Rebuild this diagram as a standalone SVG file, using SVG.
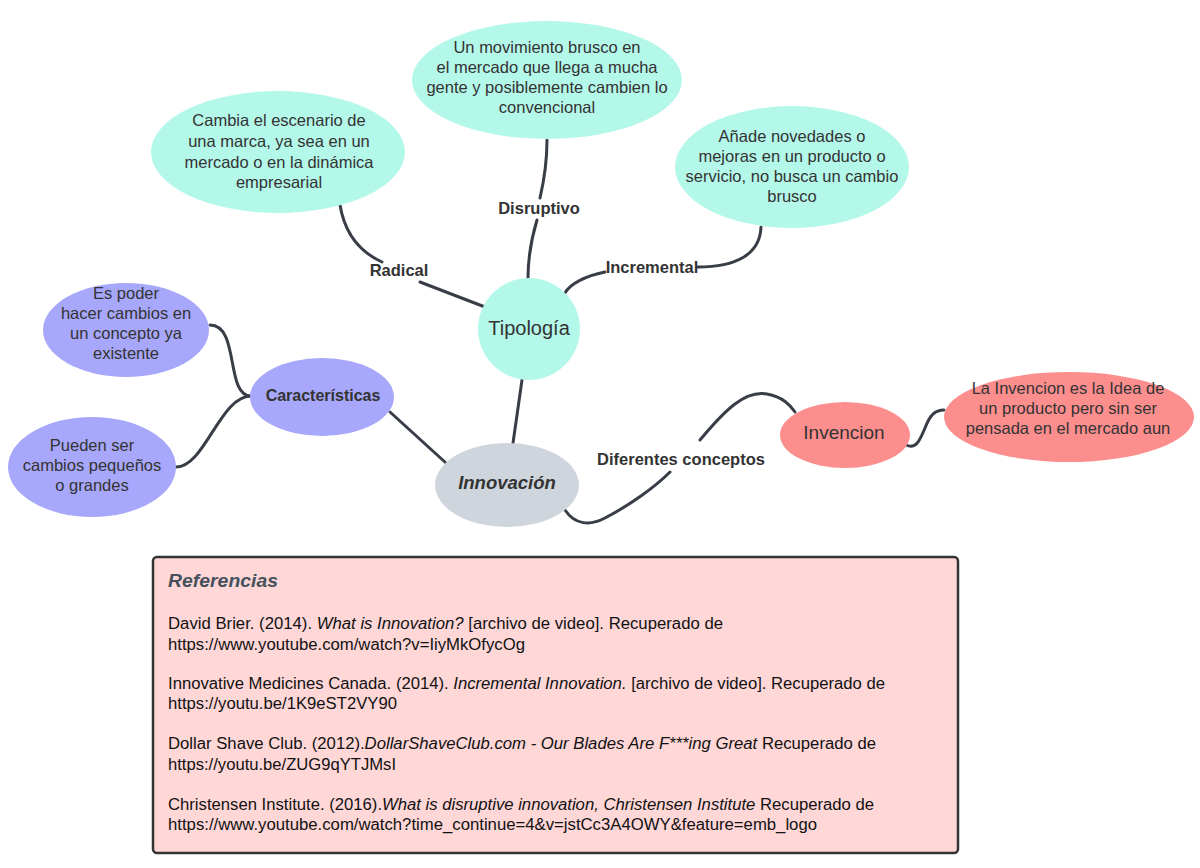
<svg xmlns="http://www.w3.org/2000/svg" width="1200" height="868" viewBox="0 0 1200 868">
<style>
.t{font-family:"Liberation Sans",Arial,sans-serif;font-size:16.5px;fill:#333;text-anchor:middle}
.b{font-weight:bold}
.c{fill:none;stroke:#383d47;stroke-width:3;stroke-linecap:round}
.teal{fill:#b4f8ea}
.purp{fill:#a7a7fb}
.red{fill:#fd8e8e}
.grey{fill:#cfd5dd}
.r{font-family:"Liberation Sans",Arial,sans-serif;font-size:16px;fill:#111}
.i{font-style:italic}
</style>
<rect width="1200" height="868" fill="#fff"/>
<g id="connectors">
<path class="c" d="M340,205 C345,235 360,252 382,262"/>
<path class="c" d="M420,282 L485,307"/>
<path class="c" d="M547,140 C547,165 543,185 540,198"/>
<path class="c" d="M537,220 C531,240 528,260 528,278"/>
<path class="c" d="M761,227 C760,255 735,267 698,267"/>
<path class="c" d="M605,272 C585,276 570,284 565,293"/>
<path class="c" d="M522,380 L513,443"/>
<path class="c" d="M390,412 L446,463"/>
<path class="c" d="M210,325 C240,325 225,396 251,396"/>
<path class="c" d="M176,467 C205,467 220,396 251,396"/>
<path class="c" d="M565,510 C575,525 590,526 605,518 C630,505 655,487 670,472"/>
<path class="c" d="M700,440 C725,410 745,390 767,394 C783,397 790,405 795,412"/>
<path class="c" d="M906,445 C916,450 920,440 925,428 C930,415 935,410 944,410"/>
</g>
<g id="labels">
<text class="t b" x="399" y="276">Radical</text>
<text class="t b" x="539" y="214">Disruptivo</text>
<text class="t b" x="652" y="273">Incremental</text>
<text class="t b" x="681" y="465">Diferentes conceptos</text>
</g>
<g id="radical-desc">
<ellipse class="teal" cx="278" cy="152" rx="127" ry="61"/>
<text class="t" x="279" y="126">Cambia el escenario de</text>
<text class="t" x="279" y="147">una marca, ya sea en un</text>
<text class="t" x="279" y="168">mercado o en la dinámica</text>
<text class="t" x="279" y="188">empresarial</text>
</g>
<g id="disruptivo-desc">
<ellipse class="teal" cx="547" cy="80" rx="135" ry="59"/>
<text class="t" x="547" y="53">Un movimiento brusco en</text>
<text class="t" x="547" y="73">el mercado que llega a mucha</text>
<text class="t" x="547" y="93">gente y posiblemente cambien lo</text>
<text class="t" x="547" y="113">convencional</text>
</g>
<g id="incremental-desc">
<ellipse class="teal" cx="792" cy="167" rx="117" ry="61"/>
<text class="t" x="792" y="142">Añade novedades o</text>
<text class="t" x="792" y="162">mejoras en un producto o</text>
<text class="t" x="792" y="182">servicio, no busca un cambio</text>
<text class="t" x="792" y="202">brusco</text>
</g>
<g id="tipologia">
<ellipse class="teal" cx="529" cy="329" rx="51" ry="51"/>
<text class="t" x="529" y="335" style="font-size:20px">Tipología</text>
</g>
<g id="caracteristicas">
<ellipse class="purp" cx="322" cy="397" rx="72" ry="39"/>
<text class="t b" x="323" y="401" style="font-size:16px">Características</text>
</g>
<g id="es-poder">
<ellipse class="purp" cx="126" cy="330" rx="83" ry="47"/>
<text class="t" x="126" y="299">Es poder</text>
<text class="t" x="126" y="319">hacer cambios en</text>
<text class="t" x="126" y="339">un concepto ya</text>
<text class="t" x="126" y="359">existente</text>
</g>
<g id="pueden-ser">
<ellipse class="purp" cx="92" cy="467" rx="84" ry="50"/>
<text class="t" x="92" y="451">Pueden ser</text>
<text class="t" x="92" y="471">cambios pequeños</text>
<text class="t" x="92" y="491">o grandes</text>
</g>
<g id="innovacion">
<ellipse class="grey" cx="507" cy="485" rx="72" ry="42"/>
<text class="t b i" x="507" y="489" style="font-size:18.5px">Innovación</text>
</g>
<g id="invencion">
<ellipse class="red" cx="845" cy="435" rx="65" ry="33"/>
<text class="t" x="844" y="439" style="font-size:19px">Invencion</text>
</g>
<g id="invencion-desc">
<ellipse class="red" cx="1069" cy="417" rx="125" ry="45"/>
<text class="t" x="1068" y="394">La Invencion es la Idea de</text>
<text class="t" x="1068" y="414">un producto pero sin ser</text>
<text class="t" x="1068" y="434">pensada en el mercado aun</text>
</g>
<g id="referencias">
<rect x="153" y="557" width="805" height="296" rx="4" fill="#ffd7d7" stroke="#333" stroke-width="2.5"/>
<text x="168" y="587" textLength="110" lengthAdjust="spacingAndGlyphs" style="font-family:'Liberation Sans',Arial,sans-serif;font-size:18px;font-weight:bold;font-style:italic;fill:#46505c">Referencias</text>
<text class="r" x="168" y="629" textLength="555" lengthAdjust="spacingAndGlyphs">David Brier. (2014). <tspan class="i">What is Innovation?</tspan> [archivo de video]. Recuperado de</text>
<text class="r" x="168" y="650" textLength="357" lengthAdjust="spacingAndGlyphs">https://www.youtube.com/watch?v=IiyMkOfycOg</text>
<text class="r" x="168" y="689" textLength="717" lengthAdjust="spacingAndGlyphs">Innovative Medicines Canada. (2014). <tspan class="i">Incremental Innovation.</tspan> [archivo de video]. Recuperado de</text>
<text class="r" x="168" y="709" textLength="229" lengthAdjust="spacingAndGlyphs">https://youtu.be/1K9eST2VY90</text>
<text class="r" x="168" y="749" textLength="708" lengthAdjust="spacingAndGlyphs">Dollar Shave Club. (2012).<tspan class="i">DollarShaveClub.com - Our Blades Are F***ing Great</tspan> Recuperado de</text>
<text class="r" x="168" y="770" textLength="228" lengthAdjust="spacingAndGlyphs">https://youtu.be/ZUG9qYTJMsI</text>
<text class="r" x="168" y="810" textLength="706" lengthAdjust="spacingAndGlyphs">Christensen Institute. (2016).<tspan class="i">What is disruptive innovation, Christensen Institute</tspan> Recuperado de</text>
<text class="r" x="168" y="830" textLength="649" lengthAdjust="spacingAndGlyphs">https://www.youtube.com/watch?time_continue=4&amp;v=jstCc3A4OWY&amp;feature=emb_logo</text>
</g>
</svg>
